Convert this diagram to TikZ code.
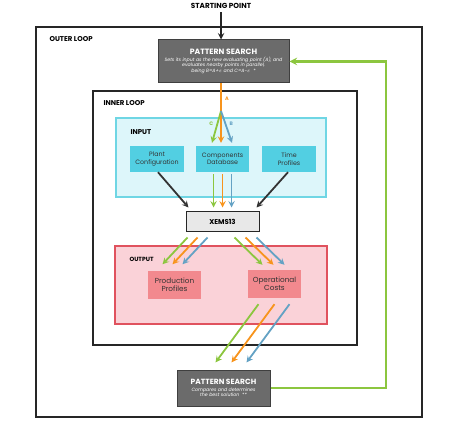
\documentclass[tikz,border=0pt]{standalone}
\usepackage{fontspec}
\setmainfont{Poppins}
\definecolor{lgreen}{HTML}{8CC63F}
\definecolor{lorange}{HTML}{F7941D}
\definecolor{lblue}{HTML}{64A2C4}
\definecolor{cyanfill}{HTML}{DDF6FA}
\definecolor{cyanline}{HTML}{6FD6E4}
\definecolor{cyannode}{HTML}{52CFE2}
\definecolor{pinkfill}{HTML}{FAD2D8}
\definecolor{redline}{HTML}{E0525E}
\definecolor{rednode}{HTML}{F2898E}
\definecolor{psgray}{HTML}{6B6B6B}
\definecolor{psline}{HTML}{3F3F3F}
\tikzset{
    head/.style = {font=\bfseries\fontsize{7}{8}\selectfont},
    psbox/.style = {draw=psline, fill=psgray, line width=1pt, text=white, align=center, inner sep=0pt,
        font=\itshape\fontsize{4.7}{5.6}\selectfont},
    inbox/.style = {fill=cyannode, minimum width=54pt, minimum height=26pt, align=center, inner sep=0pt,
        text=black!80, font=\fontsize{6.3}{7.3}\selectfont},
    outbox/.style = {fill=rednode, minimum width=53pt, minimum height=27pt, align=center, inner sep=0pt,
        text=black!80, font=\fontsize{7.3}{8.5}\selectfont},
    arr/.style = {->, line width=1.8pt},
    lab/.style = {font=\bfseries\fontsize{5}{6}\selectfont},
}

\begin{document}
\begin{tikzpicture}[x=1pt, y=-1pt, >=stealth]
    \useasboundingbox (0,0) rectangle (474,422);
    % loops and groups
    \draw[line width=2pt, black!85] (36,27) rectangle (422,417);
    \node[head, anchor=west] (outer) at (46,39) {OUTER LOOP};
    \draw[line width=1.7pt, black!85] (93,91) rectangle (357,345);
    \node[head, anchor=west] (inner) at (100,103) {INNER LOOP};
    \draw[draw=cyanline, fill=cyanfill, line width=1.4pt] (116,118) rectangle (326,197);
    \node[head, anchor=west] (input) at (127,132) {INPUT};
    \draw[draw=redline, fill=pinkfill, line width=1.4pt] (115,246) rectangle (327,324);
    \node[anchor=west, font=\bfseries\fontsize{6}{7}\selectfont] (output) at (126,259) {OUTPUT};
    % nodes
    \node[font=\bfseries\fontsize{7.3}{8.5}\selectfont] (start) at (221,6) {STARTING POINT};
    \node[psbox, minimum width=131pt, minimum height=43pt] (ps1) at (223.5,61.5)
        {{\bfseries\upshape\fontsize{7.7}{9}\selectfont PATTERN SEARCH}\\[1pt]
         Sets its input as the new evaluating point (A), and\\
         evaluates nearby points in parallel,\\
         being B=A+$\varepsilon$ and C=A-$\varepsilon$ \ *};
    \node[inbox] (plant) at (157,159) {Plant\\Configuration};
    \node[inbox, minimum width=53pt] (comp) at (222.5,159) {Components\\Database};
    \node[inbox] (time) at (289,159) {Time\\Profiles};
    \node[draw=black!85, fill=black!9, line width=1pt, minimum width=73pt, minimum height=20pt,
        inner sep=0pt, font=\bfseries\fontsize{7}{8}\selectfont] (xems) at (222.5,222) {XEMS13};
    \node[outbox] (prod) at (174.5,285) {Production\\Profiles};
    \node[outbox, minimum height=28pt] (cost) at (274.5,284) {Operational\\Costs};
    \node[psbox, minimum width=93pt, minimum height=36pt] (ps2) at (223.5,388)
        {{\bfseries\upshape\fontsize{7.5}{9}\selectfont PATTERN SEARCH}\\[1pt]
         Compares and determines\\
         the best solution \ **};
    \coordinate (split) at (221,111);
    \coordinate (fb) at (386,0);
    % connectors
    \draw[arr, black!85] (start.south) -- (start.south |- ps1.north);
    \draw[arr, lorange] (ps1.south -| split) -- ([yshift=3pt]split |- comp.north)
        node[lab, pos=0.25, right] {A};
    \draw[arr, lgreen] (split) -- ([xshift=-9pt, yshift=3pt]split |- comp.north)
        node[lab, pos=0.4, left] {C};
    \draw[arr, lblue] (split) -- ([xshift=11pt, yshift=3pt]split |- comp.north)
        node[lab, pos=0.4, right] {B};
    \foreach \c/\d in {lgreen/-9, lorange/0, lblue/9}
        \draw[arr, \c] ([xshift=\d pt, yshift=-2pt]comp.south) -- ([xshift=\d pt, yshift=4pt]xems.north);
    \draw[arr, black!80] ([xshift=1pt]plant.south) -- ([xshift=3pt, yshift=4pt]xems.north west);
    \draw[arr, black!80] ([xshift=-1pt]time.south) -- ([xshift=-3pt, yshift=4pt]xems.north east);
    \foreach \c/\d in {lgreen/0, lorange/10, lblue/20} {
        \draw[arr, \c] ([xshift=2pt+\d pt, yshift=-5pt]xems.south west) -- ([xshift=-12pt+\d pt, yshift=7pt]prod.north);
    }
    \foreach \c/\d in {lgreen/0, lorange/11, lblue/22} {
        \draw[arr, \c] ([xshift=-25pt+\d pt, yshift=-5pt]xems.south east) -- ([xshift=-12pt+\d pt, yshift=5pt]cost.north);
    }
    \foreach \c/\d in {lgreen/0, lorange/16, lblue/31} {
        \draw[arr, \c] ([xshift=-16pt+\d pt, yshift=-6pt]cost.south) -- ([xshift=-8pt+\d pt, yshift=7pt]ps2.north);
    }
    \draw[arr, lgreen, line width=2.3pt] (ps2.east) -- (ps2.east -| fb) -- (fb |- ps1.east) -- (ps1.east);
\end{tikzpicture}
\end{document}
